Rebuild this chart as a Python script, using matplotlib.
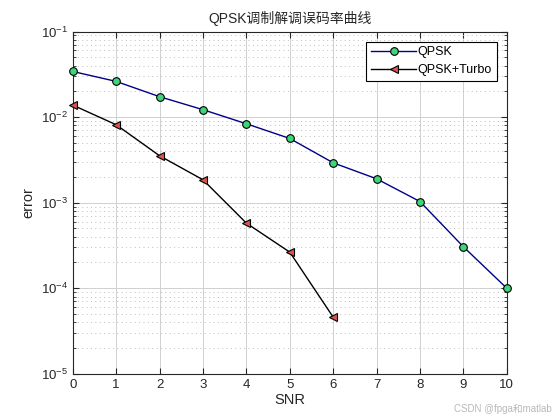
import matplotlib
matplotlib.use('Agg')
from matplotlib import pyplot as plt
from matplotlib.ticker import LogLocator, NullFormatter

plt.rcParams['font.family'] = ['Liberation Sans', 'Noto Sans CJK SC', 'DejaVu Sans']
plt.rcParams['mathtext.fontset'] = 'custom'
plt.rcParams['mathtext.rm'] = 'Liberation Sans'

snr = [0, 1, 2, 3, 4, 5, 6, 7, 8, 9, 10]
err_qpsk = [0.0341, 0.0261, 0.0173, 0.0122, 0.00835, 0.00562, 0.00292,
            0.0019, 0.00103, 0.000305, 0.0001]
snr_turbo = [0, 1, 2, 3, 4, 5, 6]
err_turbo = [0.0138, 0.00813, 0.00353, 0.00185, 0.000576, 0.000264, 0.0000459]

fig = plt.figure(figsize=(5.6, 4.2), dpi=100)
ax = fig.add_axes([0.13, 0.11, 0.775, 0.815])

ax.semilogy(snr, err_qpsk, '-o', color='#00008b', lw=1.0, ms=5.5,
            mfc='#3fd67a', mec='black', mew=0.8, label='QPSK', clip_on=False, zorder=3)
ax.semilogy(snr_turbo, err_turbo, '-<', color='black', lw=1.0, ms=6,
            mfc='#d9534f', mec='black', mew=0.8, label='QPSK+Turbo', clip_on=False, zorder=3)

ax.set_xlim(0, 10)
ax.set_ylim(1e-5, 1e-1)
ax.set_xticks(range(0, 11))
ax.yaxis.set_major_locator(LogLocator(base=10, numticks=10))
ax.yaxis.set_minor_locator(LogLocator(base=10, subs=range(2, 10), numticks=20))
ax.yaxis.set_minor_formatter(NullFormatter())

ax.grid(True, which='major', color='#d0d0d0', lw=0.7, ls='-')
ax.grid(True, which='minor', axis='y', color='#bdbdbd', lw=0.7, ls=(0, (1, 3.5)))
ax.set_axisbelow(True)

ax.tick_params(direction='in', which='both', top=True, right=True,
               labelsize=9.5, colors='#262626', length=4)
ax.tick_params(which='minor', length=2)
for s in ax.spines.values():
    s.set_color('#262626')
    s.set_linewidth(0.8)

ax.set_xlabel('SNR', fontsize=10.5, color='#262626', labelpad=2)
ax.set_ylabel('error', fontsize=10.5, color='#262626', labelpad=4)
ax.set_title('QPSK调制解调误码率曲线', fontsize=10, color='#262626', pad=6)

leg = ax.legend(loc='upper right', fontsize=9, fancybox=False, framealpha=1,
                edgecolor='black', handlelength=3.6, borderpad=0.4,
                labelspacing=0.45, handletextpad=0.1, borderaxespad=0.8)
leg.get_frame().set_linewidth(0.8)

fig.text(0.985, 0.015, 'CSDN @fpga和matlab', ha='right', va='bottom',
         fontsize=7, color='#b8b8b8')

fig.savefig('out.png', dpi=100)
